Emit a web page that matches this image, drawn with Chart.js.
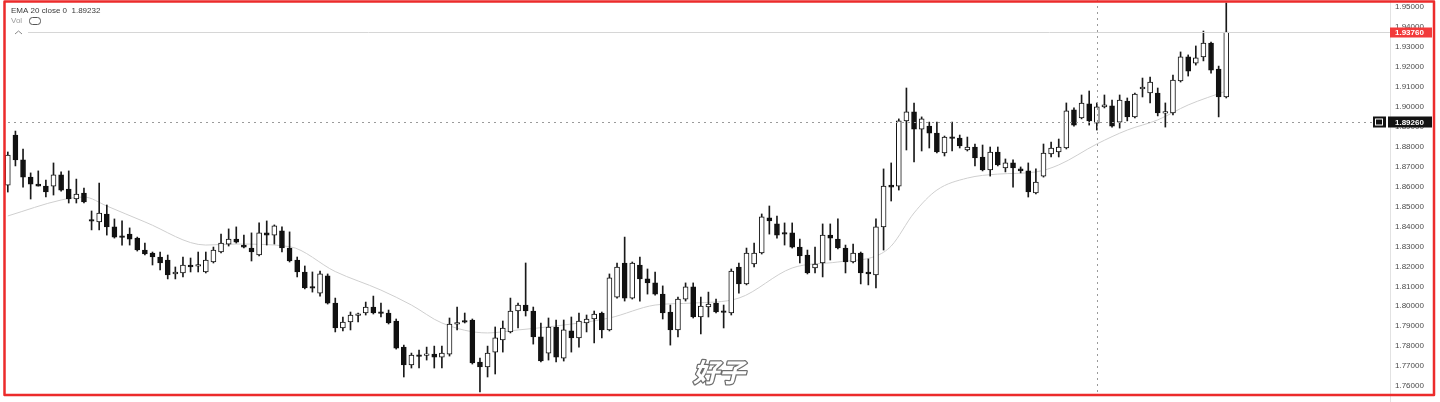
<!DOCTYPE html>
<html>
<head>
<meta charset="utf-8">
<script src="https://cdn.jsdelivr.net/npm/chart.js@4.4.1/dist/chart.umd.min.js"></script>
<style>
  html, body { margin: 0; padding: 0; background: #fff; }
  #wrap { width: 1440px; height: 402px; position: relative; }
</style>
</head>
<body>
<div id="wrap"><canvas id="chart" width="1440" height="402"></canvas></div>
<script>
// OHLC, one entry per candle
const opens = [1.8608,1.8859,1.8734,1.8648,1.8613,1.8603,1.8603,1.8659,1.8588,1.8538,1.8568,1.8433,1.8423,1.8463,1.8398,1.8352,1.8362,1.8342,1.8282,1.8267,1.8247,1.8232,1.8162,1.8167,1.8207,1.8202,1.8172,1.8222,1.8272,1.8312,1.8337,1.8307,1.8292,1.8257,1.8368,1.8357,1.8378,1.8292,1.8232,1.8172,1.8097,1.8066,1.8152,1.8016,1.7891,1.7921,1.7956,1.7966,1.7996,1.7971,1.7966,1.7926,1.7795,1.7705,1.7755,1.7755,1.7760,1.7745,1.7760,1.7911,1.7926,1.7931,1.7720,1.7695,1.7770,1.7831,1.7871,1.7976,1.8006,1.7976,1.7846,1.7765,1.7896,1.7740,1.7876,1.7841,1.7916,1.7936,1.7966,1.7881,1.8046,1.8217,1.8041,1.8207,1.8137,1.8117,1.8061,1.7971,1.7881,1.8036,1.8097,1.7946,1.7996,1.8016,1.7976,1.7966,1.8197,1.8112,1.8212,1.8267,1.8443,1.8413,1.8368,1.8368,1.8297,1.8257,1.8192,1.8217,1.8357,1.8337,1.8292,1.8222,1.8267,1.8172,1.8157,1.8398,1.8608,1.8603,1.8930,1.8975,1.8889,1.8904,1.8869,1.8769,1.8849,1.8844,1.8784,1.8799,1.8749,1.8684,1.8774,1.8694,1.8719,1.8689,1.8679,1.8568,1.8653,1.8764,1.8774,1.8794,1.8985,1.8945,1.9015,1.8919,1.9000,1.9005,1.8924,1.9030,1.8950,1.9090,1.9070,1.9070,1.8970,1.8970,1.9130,1.9251,1.9220,1.9251,1.9321,1.9190,1.9050];
const highs = [1.8774,1.8879,1.8789,1.8669,1.8679,1.8633,1.8719,1.8674,1.8679,1.8638,1.8593,1.8478,1.8618,1.8508,1.8438,1.8428,1.8393,1.8347,1.8317,1.8272,1.8272,1.8257,1.8197,1.8247,1.8242,1.8272,1.8272,1.8297,1.8362,1.8388,1.8398,1.8357,1.8368,1.8418,1.8428,1.8408,1.8398,1.8373,1.8247,1.8202,1.8172,1.8177,1.8162,1.8041,1.7946,1.7971,1.7966,1.8021,1.8051,1.8016,1.7981,1.7936,1.7805,1.7765,1.7780,1.7795,1.7800,1.7800,1.7941,1.7996,1.7966,1.7936,1.7740,1.7800,1.7896,1.7926,1.8041,1.8016,1.8217,1.7996,1.7916,1.7941,1.7931,1.7931,1.7946,1.7966,1.7956,1.7976,1.7971,1.8162,1.8217,1.8347,1.8222,1.8247,1.8187,1.8172,1.8102,1.8006,1.8046,1.8117,1.8117,1.8046,1.8071,1.8036,1.8006,1.8187,1.8217,1.8292,1.8317,1.8463,1.8503,1.8453,1.8418,1.8418,1.8337,1.8282,1.8297,1.8413,1.8413,1.8438,1.8307,1.8312,1.8272,1.8237,1.8438,1.8689,1.8719,1.8940,1.9095,1.9020,1.8950,1.8924,1.8924,1.8854,1.8924,1.8859,1.8849,1.8814,1.8809,1.8799,1.8799,1.8739,1.8734,1.8699,1.8719,1.8689,1.8814,1.8824,1.8839,1.9020,1.8995,1.9060,1.9080,1.9020,1.9060,1.9035,1.9060,1.9045,1.9070,1.9145,1.9150,1.9095,1.9020,1.9160,1.9276,1.9261,1.9306,1.9381,1.9326,1.9205,1.9522];
const lows = [1.8573,1.8704,1.8598,1.8538,1.8603,1.8548,1.8558,1.8578,1.8518,1.8518,1.8518,1.8383,1.8383,1.8357,1.8342,1.8307,1.8307,1.8277,1.8257,1.8207,1.8182,1.8137,1.8137,1.8147,1.8172,1.8172,1.8167,1.8217,1.8267,1.8302,1.8317,1.8292,1.8227,1.8252,1.8307,1.8312,1.8272,1.8222,1.8147,1.8087,1.8071,1.8051,1.8011,1.7871,1.7876,1.7881,1.7921,1.7956,1.7961,1.7946,1.7911,1.7785,1.7645,1.7690,1.7690,1.7730,1.7690,1.7690,1.7750,1.7881,1.7916,1.7710,1.7570,1.7645,1.7660,1.7770,1.7866,1.7891,1.7951,1.7810,1.7720,1.7730,1.7720,1.7725,1.7770,1.7795,1.7871,1.7816,1.7841,1.7876,1.8041,1.8026,1.8036,1.8026,1.8061,1.8056,1.7936,1.7805,1.7846,1.8026,1.7941,1.7861,1.7946,1.7966,1.7891,1.7956,1.8066,1.8107,1.8197,1.8262,1.8362,1.8342,1.8307,1.8292,1.8217,1.8162,1.8167,1.8147,1.8232,1.8287,1.8167,1.8217,1.8112,1.8107,1.8092,1.8282,1.8528,1.8583,1.8784,1.8724,1.8779,1.8794,1.8769,1.8754,1.8779,1.8794,1.8779,1.8704,1.8679,1.8653,1.8704,1.8674,1.8598,1.8669,1.8548,1.8563,1.8648,1.8749,1.8749,1.8789,1.8904,1.8940,1.8909,1.8884,1.8995,1.8899,1.8894,1.8930,1.8945,1.9050,1.9020,1.8955,1.8899,1.8960,1.9125,1.9155,1.9210,1.9231,1.9170,1.8950,1.9045];
const closes = [1.8759,1.8734,1.8648,1.8613,1.8603,1.8573,1.8659,1.8583,1.8538,1.8563,1.8523,1.8428,1.8468,1.8398,1.8347,1.8347,1.8337,1.8282,1.8262,1.8247,1.8217,1.8157,1.8172,1.8207,1.8197,1.8207,1.8232,1.8282,1.8317,1.8337,1.8322,1.8297,1.8272,1.8368,1.8357,1.8403,1.8292,1.8227,1.8172,1.8092,1.8092,1.8162,1.8016,1.7891,1.7921,1.7956,1.7961,1.7996,1.7966,1.7966,1.7916,1.7790,1.7705,1.7755,1.7750,1.7760,1.7745,1.7765,1.7911,1.7916,1.7921,1.7715,1.7695,1.7765,1.7841,1.7891,1.7976,1.8006,1.7976,1.7846,1.7725,1.7896,1.7745,1.7881,1.7841,1.7926,1.7936,1.7961,1.7881,1.8142,1.8197,1.8041,1.8217,1.8137,1.8117,1.8061,1.7966,1.7881,1.8036,1.8097,1.7946,1.8001,1.8011,1.7971,1.7971,1.8177,1.8112,1.8267,1.8267,1.8448,1.8428,1.8357,1.8362,1.8297,1.8252,1.8167,1.8212,1.8357,1.8342,1.8292,1.8222,1.8267,1.8167,1.8162,1.8398,1.8603,1.8598,1.8930,1.8975,1.8889,1.8940,1.8869,1.8774,1.8849,1.8844,1.8804,1.8799,1.8744,1.8684,1.8774,1.8709,1.8719,1.8694,1.8679,1.8573,1.8623,1.8769,1.8794,1.8799,1.8980,1.8909,1.9020,1.8930,1.9000,1.9010,1.8904,1.9035,1.8950,1.9065,1.9100,1.9125,1.8970,1.8975,1.9135,1.9251,1.9180,1.9246,1.9321,1.9185,1.9050,1.9376];

// moving average line, read at some candles
const emaIdx = [0, 7, 10, 13, 18, 26, 30, 37, 43, 49, 53, 57, 63, 67, 72, 79, 85, 90, 96, 103, 109, 114, 116, 119, 122, 126, 130, 135, 138, 143, 147, 151, 155, 160];
const emaVal = [1.8453, 1.8533, 1.8548, 1.8503, 1.8423, 1.8307, 1.8312, 1.8299, 1.8174, 1.8081, 1.8006, 1.7916, 1.7866, 1.7881, 1.7901, 1.7941, 1.8006, 1.8016, 1.8041, 1.8192, 1.8222, 1.8252, 1.8302, 1.8468, 1.8583, 1.8643, 1.8663, 1.8674, 1.8709, 1.8814, 1.8884, 1.8935, 1.9010, 1.9080];

const emptySlots = 21;          // free space right of the last candle
const crossIndex = 143;         // crosshair candle
const crossPrice = 1.8926;
const legendText = 'EMA 20 close 0  1.89232';
const caption = '好子';

const N = opens.length;
const labels = Array.from({ length: N + emptySlots }, (_, i) => String(i));
const emaData = Array(N).fill(null);
emaIdx.forEach((k, j) => { emaData[k] = emaVal[j]; });

const bodies = opens.map((o, i) => {
    const c = closes[i];
    if (Math.abs(c - o) < 0.0008) {
        const m = (o + c) / 2;
        return [m - 0.0004, m + 0.0004];
    }
    return [Math.min(o, c), Math.max(o, c)];
});
const wicks = lows.map((l, i) => [l, highs[i]]);
const bodyColors = opens.map((o, i) => closes[i] > o ? '#ffffff' : '#111111');

const overlay = {
    id: 'overlay',
    afterDraw(chart) {
        const { ctx, chartArea } = chart;
        const x = chart.scales.x, y = chart.scales.y;
        ctx.save();

        // last price line
        const lastY = Math.round(y.getPixelForValue(closes[N - 1])) + 0.5;
        ctx.strokeStyle = '#d6d6d6';
        ctx.lineWidth = 1;
        ctx.beginPath();
        ctx.moveTo(28, lastY);
        ctx.lineTo(chartArea.right, lastY);
        ctx.stroke();

        // crosshair
        const cx = Math.round(x.getPixelForValue(crossIndex)) + 0.5;
        const cy = Math.round(y.getPixelForValue(crossPrice)) + 0.5;
        ctx.strokeStyle = '#9a9a9a';
        ctx.setLineDash([2, 4]);
        ctx.beginPath();
        ctx.moveTo(cx, 0);
        ctx.lineTo(cx, 395);
        ctx.moveTo(8, cy);
        ctx.lineTo(chartArea.right, cy);
        ctx.stroke();
        ctx.setLineDash([]);

        // axis labels
        ctx.font = 'bold 8px "Liberation Sans", Arial, sans-serif';
        ctx.textBaseline = 'middle';
        ctx.textAlign = 'left';
        ctx.fillStyle = '#f23a3a';
        ctx.fillRect(chartArea.right, lastY - 5, 42, 10);
        ctx.fillStyle = '#ffffff';
        ctx.fillText(closes[N - 1].toFixed(5), chartArea.right + 5, lastY);

        ctx.fillStyle = '#131313';
        ctx.fillRect(chartArea.right - 2, cy - 6, 44, 11);
        ctx.fillRect(chartArea.right - 17, cy - 6, 13, 11);
        ctx.fillStyle = '#ffffff';
        ctx.fillText(crossPrice.toFixed(5), chartArea.right + 5, cy);
        ctx.strokeStyle = '#ffffff';
        ctx.lineWidth = 1;
        ctx.strokeRect(chartArea.right - 14.5, cy - 3.5, 7, 6);

        // legend, top left
        ctx.font = '8px "Liberation Sans", Arial, sans-serif';
        ctx.fillStyle = '#3a3a3a';
        ctx.fillText(legendText, 11, 11);
        ctx.fillStyle = '#9a9a9a';
        ctx.fillText('Vol', 11, 21);
        ctx.strokeStyle = '#555';
        ctx.beginPath();
        ctx.roundRect(29.5, 17.5, 11, 7, 3);
        ctx.stroke();
        ctx.strokeStyle = '#888';
        ctx.beginPath();
        ctx.moveTo(15, 34);
        ctx.lineTo(18.5, 31);
        ctx.lineTo(22, 34);
        ctx.stroke();

        // caption
        ctx.font = 'italic bold 26px "Noto Sans CJK SC", sans-serif';
        ctx.textAlign = 'center';
        ctx.lineJoin = 'round';
        ctx.lineWidth = 2.5;
        ctx.strokeStyle = '#6e6e6e';
        ctx.strokeText(caption, 719, 372);
        ctx.fillStyle = '#ffffff';
        ctx.fillText(caption, 719, 372);

        // frame
        ctx.strokeStyle = '#ec2b2b';
        ctx.lineWidth = 2.5;
        ctx.strokeRect(4.5, 1.5, 1429.5, 393.5);
        ctx.restore();
    }
};

new Chart(document.getElementById('chart'), {
    data: {
        labels: labels,
        datasets: [
            {
                type: 'bar',
                data: bodies,
                backgroundColor: bodyColors,
                borderColor: '#111111',
                borderWidth: 1,
                borderSkipped: false,
                barThickness: 5,
                grouped: false,
                order: 0
            },
            {
                type: 'bar',
                data: wicks,
                backgroundColor: '#1a1a1a',
                borderWidth: 0,
                barThickness: 1,
                grouped: false,
                order: 1
            },
            {
                type: 'line',
                data: emaData,
                borderColor: '#cfcfcf',
                borderWidth: 1,
                pointRadius: 0,
                spanGaps: true,
                cubicInterpolationMode: 'monotone',
                order: 2
            }
        ]
    },
    options: {
        responsive: false,
        devicePixelRatio: 1,
        animation: false,
        layout: { padding: { left: 4, right: 0, top: 0, bottom: 0 }, autoPadding: false },
        plugins: { legend: { display: false }, tooltip: { enabled: false } },
        scales: {
            x: {
                type: 'category',
                display: false,
                offset: true
            },
            y: {
                type: 'linear',
                position: 'right',
                min: 1.75195,
                max: 1.95366,
                afterFit: (scale) => {
                    scale.width = 50;
                    scale.paddingTop = 0;
                    scale.paddingBottom = 0;
                },
                grid: { display: false, drawTicks: false },
                border: { display: true, color: '#e2e2e2' },
                ticks: {
                    stepSize: 0.01,
                    includeBounds: false,
                    padding: 5,
                    color: '#4a4a4a',
                    font: { size: 8, family: '"Liberation Sans", Arial, sans-serif' },
                    callback: (v) => v.toFixed(5)
                }
            }
        }
    },
    plugins: [overlay]
});
</script>
</body>
</html>
